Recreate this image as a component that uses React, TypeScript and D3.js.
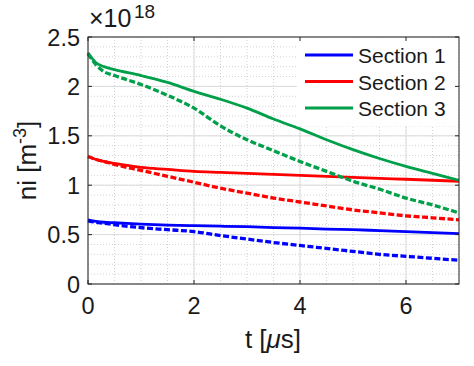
import React from "react";
import * as d3 from "d3";

const tValues = [0, 0.15, 0.3, 0.5, 1, 1.5, 2, 2.5, 3, 3.5, 4, 4.5, 5, 5.5, 6, 6.5, 7];
// values in units of 1e18 m^-3
const sec1Solid = [0.65, 0.635, 0.625, 0.62, 0.605, 0.595, 0.59, 0.585, 0.58, 0.57, 0.565, 0.555, 0.55, 0.54, 0.53, 0.52, 0.51];
const sec1Dashed = [0.64, 0.625, 0.615, 0.6, 0.57, 0.55, 0.53, 0.49, 0.455, 0.42, 0.39, 0.36, 0.33, 0.3, 0.28, 0.26, 0.24];
const sec2Solid = [1.29, 1.26, 1.24, 1.22, 1.18, 1.16, 1.14, 1.13, 1.12, 1.11, 1.1, 1.09, 1.08, 1.07, 1.06, 1.05, 1.04];
const sec2Dashed = [1.29, 1.26, 1.24, 1.21, 1.15, 1.09, 1.03, 0.97, 0.92, 0.87, 0.83, 0.79, 0.75, 0.72, 0.69, 0.67, 0.65];
const sec3Solid = [2.34, 2.24, 2.2, 2.17, 2.11, 2.04, 1.95, 1.87, 1.78, 1.67, 1.57, 1.46, 1.36, 1.27, 1.19, 1.12, 1.05];
const sec3Dashed = [2.33, 2.22, 2.15, 2.11, 2.02, 1.91, 1.78, 1.6, 1.46, 1.35, 1.24, 1.14, 1.04, 0.96, 0.87, 0.8, 0.72];

const seriesNames = ["Section 1", "Section 2", "Section 3"];
const seriesColors = ["#0000ff", "#ff0000", "#00a04a"];
const xTicks = [0, 2, 4, 6];
const yTicks = [0, 0.5, 1, 1.5, 2, 2.5];
const yTickLabels = ["0", "0.5", "1", "1.5", "2", "2.5"];

const W = 474, H = 366;
const L = 88, R = 459, T = 37, B = 284;

export default function App() {
  const x = d3.scaleLinear().domain([0, 7]).range([L, R]);
  const y = d3.scaleLinear().domain([0, 2.5]).range([B, T]);
  const line = (vals: number[]) =>
    d3.line<number>().x((_, i) => x(tValues[i])).y((v) => y(v)).curve(d3.curveMonotoneX)(vals) || "";

  const xMinor = d3.range(0, 7.001, 0.5);
  const yMinor = d3.range(0, 2.5001, 0.1);
  const font = "'Liberation Sans', Arial, sans-serif";
  const pairs = [
    [sec1Solid, sec1Dashed],
    [sec2Solid, sec2Dashed],
    [sec3Solid, sec3Dashed],
  ];
  const txt = "#1a1a1a";

  return (
    <svg width={W} height={H} style={{ position: "absolute", left: 0, top: 0, background: "#fff" }} fontFamily={font}>
      <rect x={0} y={0} width={W} height={H} fill="#fff" />
      {/* minor grid */}
      {xMinor.map((v) => (
        <line key={"xm" + v} x1={x(v)} x2={x(v)} y1={T} y2={B} stroke="#c8c8c8" strokeWidth={0.8} strokeDasharray="1,2" />
      ))}
      {yMinor.map((v) => (
        <line key={"ym" + v} x1={L} x2={R} y1={y(v)} y2={y(v)} stroke="#c8c8c8" strokeWidth={0.8} strokeDasharray="1,2" />
      ))}
      {/* major grid */}
      {xTicks.map((v) => (
        <line key={"xg" + v} x1={x(v)} x2={x(v)} y1={T} y2={B} stroke="#dcdcdc" strokeWidth={1} />
      ))}
      {yTicks.map((v) => (
        <line key={"yg" + v} x1={L} x2={R} y1={y(v)} y2={y(v)} stroke="#dcdcdc" strokeWidth={1} />
      ))}
      {/* lines */}
      {pairs.map(([s, d], i) => (
        <g key={"s" + i}>
          <path d={line(s)} fill="none" stroke={seriesColors[i]} strokeWidth={2.8} />
          <path d={line(d)} fill="none" stroke={seriesColors[i]} strokeWidth={3.3} strokeDasharray="6,2.5" />
        </g>
      ))}
      {/* legend */}
      <rect x={297} y={T + 1} width={R - 298} height={88} fill="#fff" />
      {seriesNames.map((n, i) => (
        <g key={n}>
          <line x1={305} x2={353} y1={55 + i * 26.5} y2={55 + i * 26.5} stroke={seriesColors[i]} strokeWidth={3} />
          <text x={358} y={55 + i * 26.5 + 8} fontSize={21} fill={txt}>{n}</text>
        </g>
      ))}
      {/* axes box */}
      <rect x={L} y={T} width={R - L} height={B - T} fill="none" stroke="#262626" strokeWidth={1} />
      {xTicks.map((v) => (
        <g key={"xt" + v}>
          <line x1={x(v)} x2={x(v)} y1={B} y2={B - 4} stroke="#262626" />
          <line x1={x(v)} x2={x(v)} y1={T} y2={T + 4} stroke="#262626" />
          <text x={x(v)} y={314} fontSize={23.5} textAnchor="middle" fill={txt}>{v}</text>
        </g>
      ))}
      {yTicks.map((v, i) => (
        <g key={"yt" + v}>
          <line x1={L} x2={L + 4} y1={y(v)} y2={y(v)} stroke="#262626" />
          <line x1={R} x2={R - 4} y1={y(v)} y2={y(v)} stroke="#262626" />
          <text x={80} y={y(v) + 8.5} fontSize={23.5} textAnchor="end" fill={txt}>{yTickLabels[i]}</text>
        </g>
      ))}
      {/* exponent */}
      <text x={89} y={27} fontSize={25} fill={txt}>×10</text>
      <text x={134} y={18} fontSize={19} fill={txt}>18</text>
      {/* axis labels */}
      <text x={273} y={348} fontSize={26} textAnchor="middle" fill={txt}>
        t [<tspan fontStyle="italic">μ</tspan>s]
      </text>
      <text transform={`translate(36,${(T + B) / 2}) rotate(-90)`} fontSize={26} textAnchor="middle" fill={txt}>
        ni [m<tspan dy={-10} fontSize={18}>-3</tspan><tspan dy={10}>]</tspan>
      </text>
    </svg>
  );
}
